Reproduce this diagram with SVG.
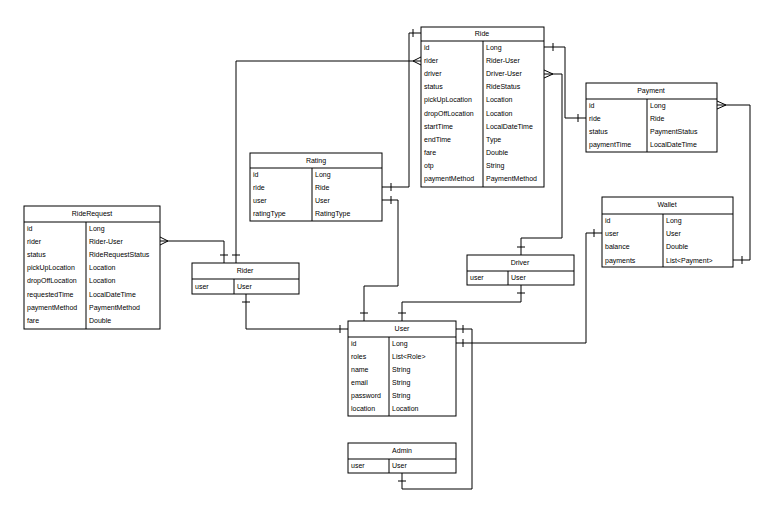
<svg xmlns="http://www.w3.org/2000/svg" width="768" height="508" viewBox="0 0 768 508">
<style>
.b{fill:#fff;stroke:#000;stroke-width:1}
.l{stroke:#000;stroke-width:1;fill:none}
text{font-family:"Liberation Sans",Arial,sans-serif;font-size:7px;fill:#000}
.h{text-anchor:middle}
.c{stroke:#000;stroke-width:1;fill:none}
</style>
<rect width="768" height="508" fill="#fff"/>
<g id="connectors">
<path class="c" d="M382,187H409V33H421M391,183v8M413,29v8"/>
<path class="c" d="M421,61H236V263M232,255h8M413,61L421,57M413,61L421,65"/>
<path class="c" d="M160,241H224V263M220,255h8M168,241L160,237M168,241L160,245"/>
<path class="c" d="M544,47H565V118H586M553,43v8M578,114v8"/>
<path class="c" d="M544,74H562V238H521V255M517,247h8M553,74L544,70M553,74L544,78"/>
<path class="c" d="M717,105H750V260H733M742,256v8M726,105L717,101M726,105L717,109"/>
<path class="c" d="M382,200H398V286H364V321M391,196v8M360,313h8"/>
<path class="c" d="M521,285V302H402V321M517,293h8M398,313h8"/>
<path class="c" d="M246,294V329H348M242,302h8M340,325v8"/>
<path class="c" d="M456,329H472V489H402V473M463,325v8M398,481h8"/>
<path class="c" d="M456,343H586V233H602M463,339v8M594,229v8"/>
</g>
<g id="Ride">
<rect class="b" x="421" y="27" width="123" height="160"/>
<path class="l" d="M421,41H544M483,41V187"/>
<text class="h" x="482" y="36">Ride</text>
<g transform="translate(424,0)">
<text y="50">id</text><text y="63">rider</text><text y="76">driver</text><text y="89">status</text><text y="102">pickUpLocation</text><text y="116">dropOffLocation</text><text y="129">startTime</text><text y="142">endTime</text><text y="155">fare</text><text y="168">otp</text><text y="181">paymentMethod</text></g>
<g transform="translate(486,0)">
<text y="50">Long</text><text y="63">Rider-User</text><text y="76">Driver-User</text><text y="89">RideStatus</text><text y="102">Location</text><text y="116">Location</text><text y="129">LocalDateTime</text><text y="142">Type</text><text y="155">Double</text><text y="168">String</text><text y="181">PaymentMethod</text></g>
</g>
<g id="Payment">
<rect class="b" x="586" y="83" width="131" height="69"/>
<path class="l" d="M586,99H717M647,99V152"/>
<text class="h" x="651" y="93">Payment</text>
<g transform="translate(589,0)"><text y="108">id</text><text y="121">ride</text><text y="134">status</text><text y="147">paymentTime</text></g>
<g transform="translate(650,0)"><text y="108">Long</text><text y="121">Ride</text><text y="134">PaymentStatus</text><text y="147">LocalDateTime</text></g>
</g>
<g id="Wallet">
<rect class="b" x="602" y="197" width="131" height="70"/>
<path class="l" d="M602,214H733M663,214V267"/>
<text class="h" x="667" y="207">Wallet</text>
<g transform="translate(605,0)"><text y="223">id</text><text y="236">user</text><text y="249">balance</text><text y="263">payments</text></g>
<g transform="translate(666,0)"><text y="223">Long</text><text y="236">User</text><text y="249">Double</text><text y="263">List&lt;Payment&gt;</text></g>
</g>
<g id="Rating">
<rect class="b" x="250" y="153" width="132" height="68"/>
<path class="l" d="M250,168H382M312,168V221"/>
<text class="h" x="316" y="163">Rating</text>
<g transform="translate(253,0)"><text y="177">id</text><text y="190">ride</text><text y="203">user</text><text y="216">ratingType</text></g>
<g transform="translate(315,0)"><text y="177">Long</text><text y="190">Ride</text><text y="203">User</text><text y="216">RatingType</text></g>
</g>
<g id="RideRequest">
<rect class="b" x="24" y="206" width="136" height="123"/>
<path class="l" d="M24,222H160M86,222V329"/>
<text class="h" x="92" y="216">RideRequest</text>
<g transform="translate(27,0)"><text y="231">id</text><text y="244">rider</text><text y="257">status</text><text y="270">pickUpLocation</text><text y="283">dropOffLocation</text><text y="297">requestedTime</text><text y="310">paymentMethod</text><text y="323">fare</text></g>
<g transform="translate(89,0)"><text y="231">Long</text><text y="244">Rider-User</text><text y="257">RideRequestStatus</text><text y="270">Location</text><text y="283">Location</text><text y="297">LocalDateTime</text><text y="310">PaymentMethod</text><text y="323">Double</text></g>
</g>
<g id="Rider">
<rect class="b" x="192" y="263" width="107" height="31"/>
<path class="l" d="M192,279H299M234,279V294"/>
<text class="h" x="245" y="273">Rider</text>
<text x="195" y="289">user</text><text x="237" y="289">User</text>
</g>
<g id="Driver">
<rect class="b" x="467" y="255" width="107" height="30"/>
<path class="l" d="M467,271H574M508,271V285"/>
<text class="h" x="520" y="265">Driver</text>
<text x="470" y="280">user</text><text x="511" y="280">User</text>
</g>
<g id="User">
<rect class="b" x="348" y="321" width="108" height="95"/>
<path class="l" d="M348,337H456M389,337V416"/>
<text class="h" x="402" y="331">User</text>
<g transform="translate(351,0)"><text y="346">id</text><text y="359">roles</text><text y="372">name</text><text y="385">email</text><text y="398">password</text><text y="411">location</text></g>
<g transform="translate(392,0)"><text y="346">Long</text><text y="359">List&lt;Role&gt;</text><text y="372">String</text><text y="385">String</text><text y="398">String</text><text y="411">Location</text></g>
</g>
<g id="Admin">
<rect class="b" x="348" y="443" width="108" height="30"/>
<path class="l" d="M348,459H456M389,459V473"/>
<text class="h" x="402" y="453">Admin</text>
<text x="351" y="468">user</text><text x="392" y="468">User</text>
</g>
</svg>
